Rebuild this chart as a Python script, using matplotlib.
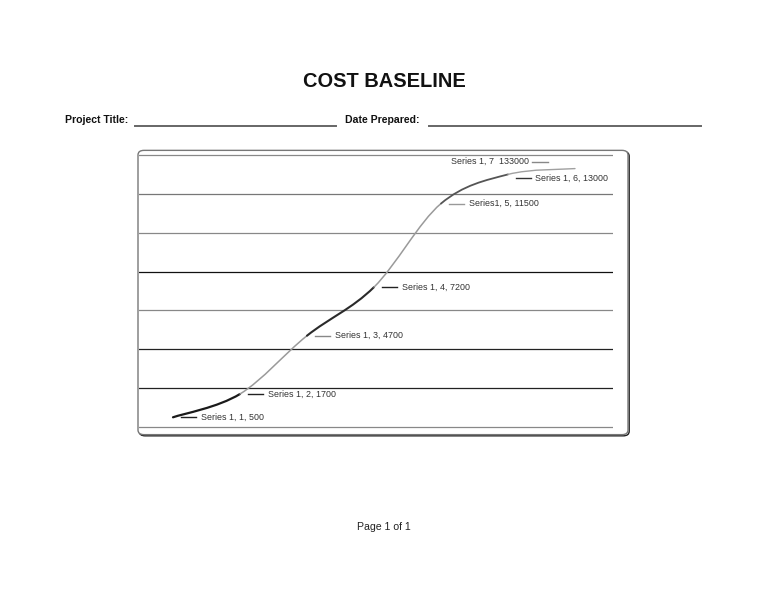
import matplotlib
matplotlib.use("Agg")
import matplotlib.pyplot as plt
from matplotlib.path import Path
from matplotlib.patches import PathPatch, FancyBboxPatch
from matplotlib.lines import Line2D
from matplotlib.transforms import offset_copy

# ---- data ----
periods = [1, 2, 3, 4, 5, 6, 7]
costs = [500, 1700, 4700, 7200, 11500, 13000, 13300]
point_labels = ["Series 1, 1, 500", "Series 1, 2, 1700", "Series 1, 3, 4700",
                "Series 1, 4, 7200", "Series1, 5, 11500", "Series 1, 6, 13000",
                "Series 1, 7  133000"]
grid_values = [0, 2000, 4000, 6000, 8000, 10000, 12000, 14000]

W, H = 768, 594
fig = plt.figure(figsize=(W / 100, H / 100), dpi=100)
fig.patch.set_facecolor("white")

def fx(px):
    return px / W

def fy(py):
    return 1 - py / H

SANS = ["Liberation Sans", "DejaVu Sans"]

# ---- header ----
fig.text(fx(384), fy(87), "COST BASELINE", ha="center", va="baseline",
         fontsize=14.4, fontweight="bold", family=SANS, color="#111111")
fig.text(fx(65), fy(123), "Project Title:", ha="left", va="baseline",
         fontsize=7.6, fontweight="bold", family=SANS, color="#111111")
fig.text(fx(345), fy(123), "Date Prepared:", ha="left", va="baseline",
         fontsize=7.6, fontweight="bold", family=SANS, color="#111111")
fig.add_artist(Line2D([fx(135), fx(336)], [fy(125.5), fy(125.5)],
                      transform=fig.transFigure, color="#666666", lw=1.4))
fig.add_artist(Line2D([fx(429), fx(701)], [fy(125.5), fy(125.5)],
                      transform=fig.transFigure, color="#666666", lw=1.4))
fig.text(fx(384), fy(530), "Page 1 of 1", ha="center", va="baseline",
         fontsize=7.6, family=SANS, color="#222222")

# ---- rounded frame (light edge with darker shadow at right/bottom) ----
pad = 6
bx0, bx1, by0, by1 = 138, 628, 149, 436
for off, ec, z in [(1.2, "#222222", -3), (0, "#777777", -2)]:
    frame = FancyBboxPatch((fx(bx0 + pad + off), fy(by1 - pad + off)),
                           (bx1 - bx0 - 2 * pad) / W, (by1 - by0 - 2 * pad) / H,
                           boxstyle=f"round,pad={pad / W},rounding_size={pad / W}",
                           transform=fig.transFigure, facecolor="white",
                           edgecolor=ec, lw=1.0, zorder=z)
    fig.add_artist(frame)

# ---- axes ----
ax_l, ax_r, ax_t, ax_b = 139, 613, 152, 430
ax = fig.add_axes([fx(ax_l), fy(ax_b), (ax_r - ax_l) / W, (ax_b - ax_t) / H])
ax.set_facecolor("none")
for s in ax.spines.values():
    s.set_visible(False)
ax.set_xticks([])
ax.set_yticks([])
ppx = 67.0
ax.set_xlim(1 - (173 - ax_l) / ppx, 7 + (ax_r - 575) / ppx)
ppy = 39.0 / 2000
ax.set_ylim(-(ax_b - 427) / ppy, 14000 + (155 - ax_t) / ppy)

grid_colors = ["#888888", "#222222", "#222222", "#888888", "#111111",
               "#888888", "#777777", "#888888"]
for v, c in zip(grid_values, grid_colors):
    ax.axhline(v, color=c, lw=0.9, zorder=1)

# smooth curve through the points (Catmull-Rom as cubic Bezier segments)
seg_colors = ["#1a1a1a", "#9a9a9a", "#2a2a2a", "#9a9a9a", "#555555", "#a0a0a0"]
seg_widths = [1.6, 1.1, 1.5, 1.1, 1.3, 1.0]
n = len(periods)
for i in range(n - 1):
    x0, y0 = (periods[i - 1], costs[i - 1]) if i > 0 else (periods[i], costs[i])
    x1, y1 = periods[i], costs[i]
    x2, y2 = periods[i + 1], costs[i + 1]
    x3, y3 = (periods[i + 2], costs[i + 2]) if i + 2 < n else (x2, y2)
    c1 = (x1 + (x2 - x0) / 6, y1 + (y2 - y0) / 6)
    c2 = (x2 - (x3 - x1) / 6, y2 - (y3 - y1) / 6)
    path = Path([(x1, y1), c1, c2, (x2, y2)],
                [Path.MOVETO, Path.CURVE4, Path.CURVE4, Path.CURVE4])
    ax.add_patch(PathPatch(path, facecolor="none", edgecolor=seg_colors[i],
                           lw=seg_widths[i], zorder=3, capstyle="round"))

# data labels with leader lines
leader_colors = ["#222222", "#222222", "#888888", "#222222", "#999999",
                 "#333333", "#888888"]
for i, (x, y, lab) in enumerate(zip(periods, costs, point_labels)):
    if i == n - 1:
        dx0, dx1, dy, tx, ha = -43, -27, 7, -46, "right"
    elif i == 5:
        dx0, dx1, dy, tx, ha = 8, 23, -4, 27, "left"
    else:
        dx0, dx1, dy, tx, ha = 8, 23, 0, 28, "left"
    p0 = ax.transData.transform((x, y))
    line = Line2D([p0[0] + dx0, p0[0] + dx1], [p0[1] + dy, p0[1] + dy],
                  transform=None, color=leader_colors[i], lw=1.0, zorder=4)
    fig.add_artist(line)
    tt = offset_copy(ax.transData, fig=fig, x=tx, y=dy, units="dots")
    ax.text(x, y, lab, transform=tt, ha=ha, va="center", fontsize=6.4,
            family=SANS, color="#333333", zorder=5)

fig.savefig("out.png", dpi=100, facecolor="white")
